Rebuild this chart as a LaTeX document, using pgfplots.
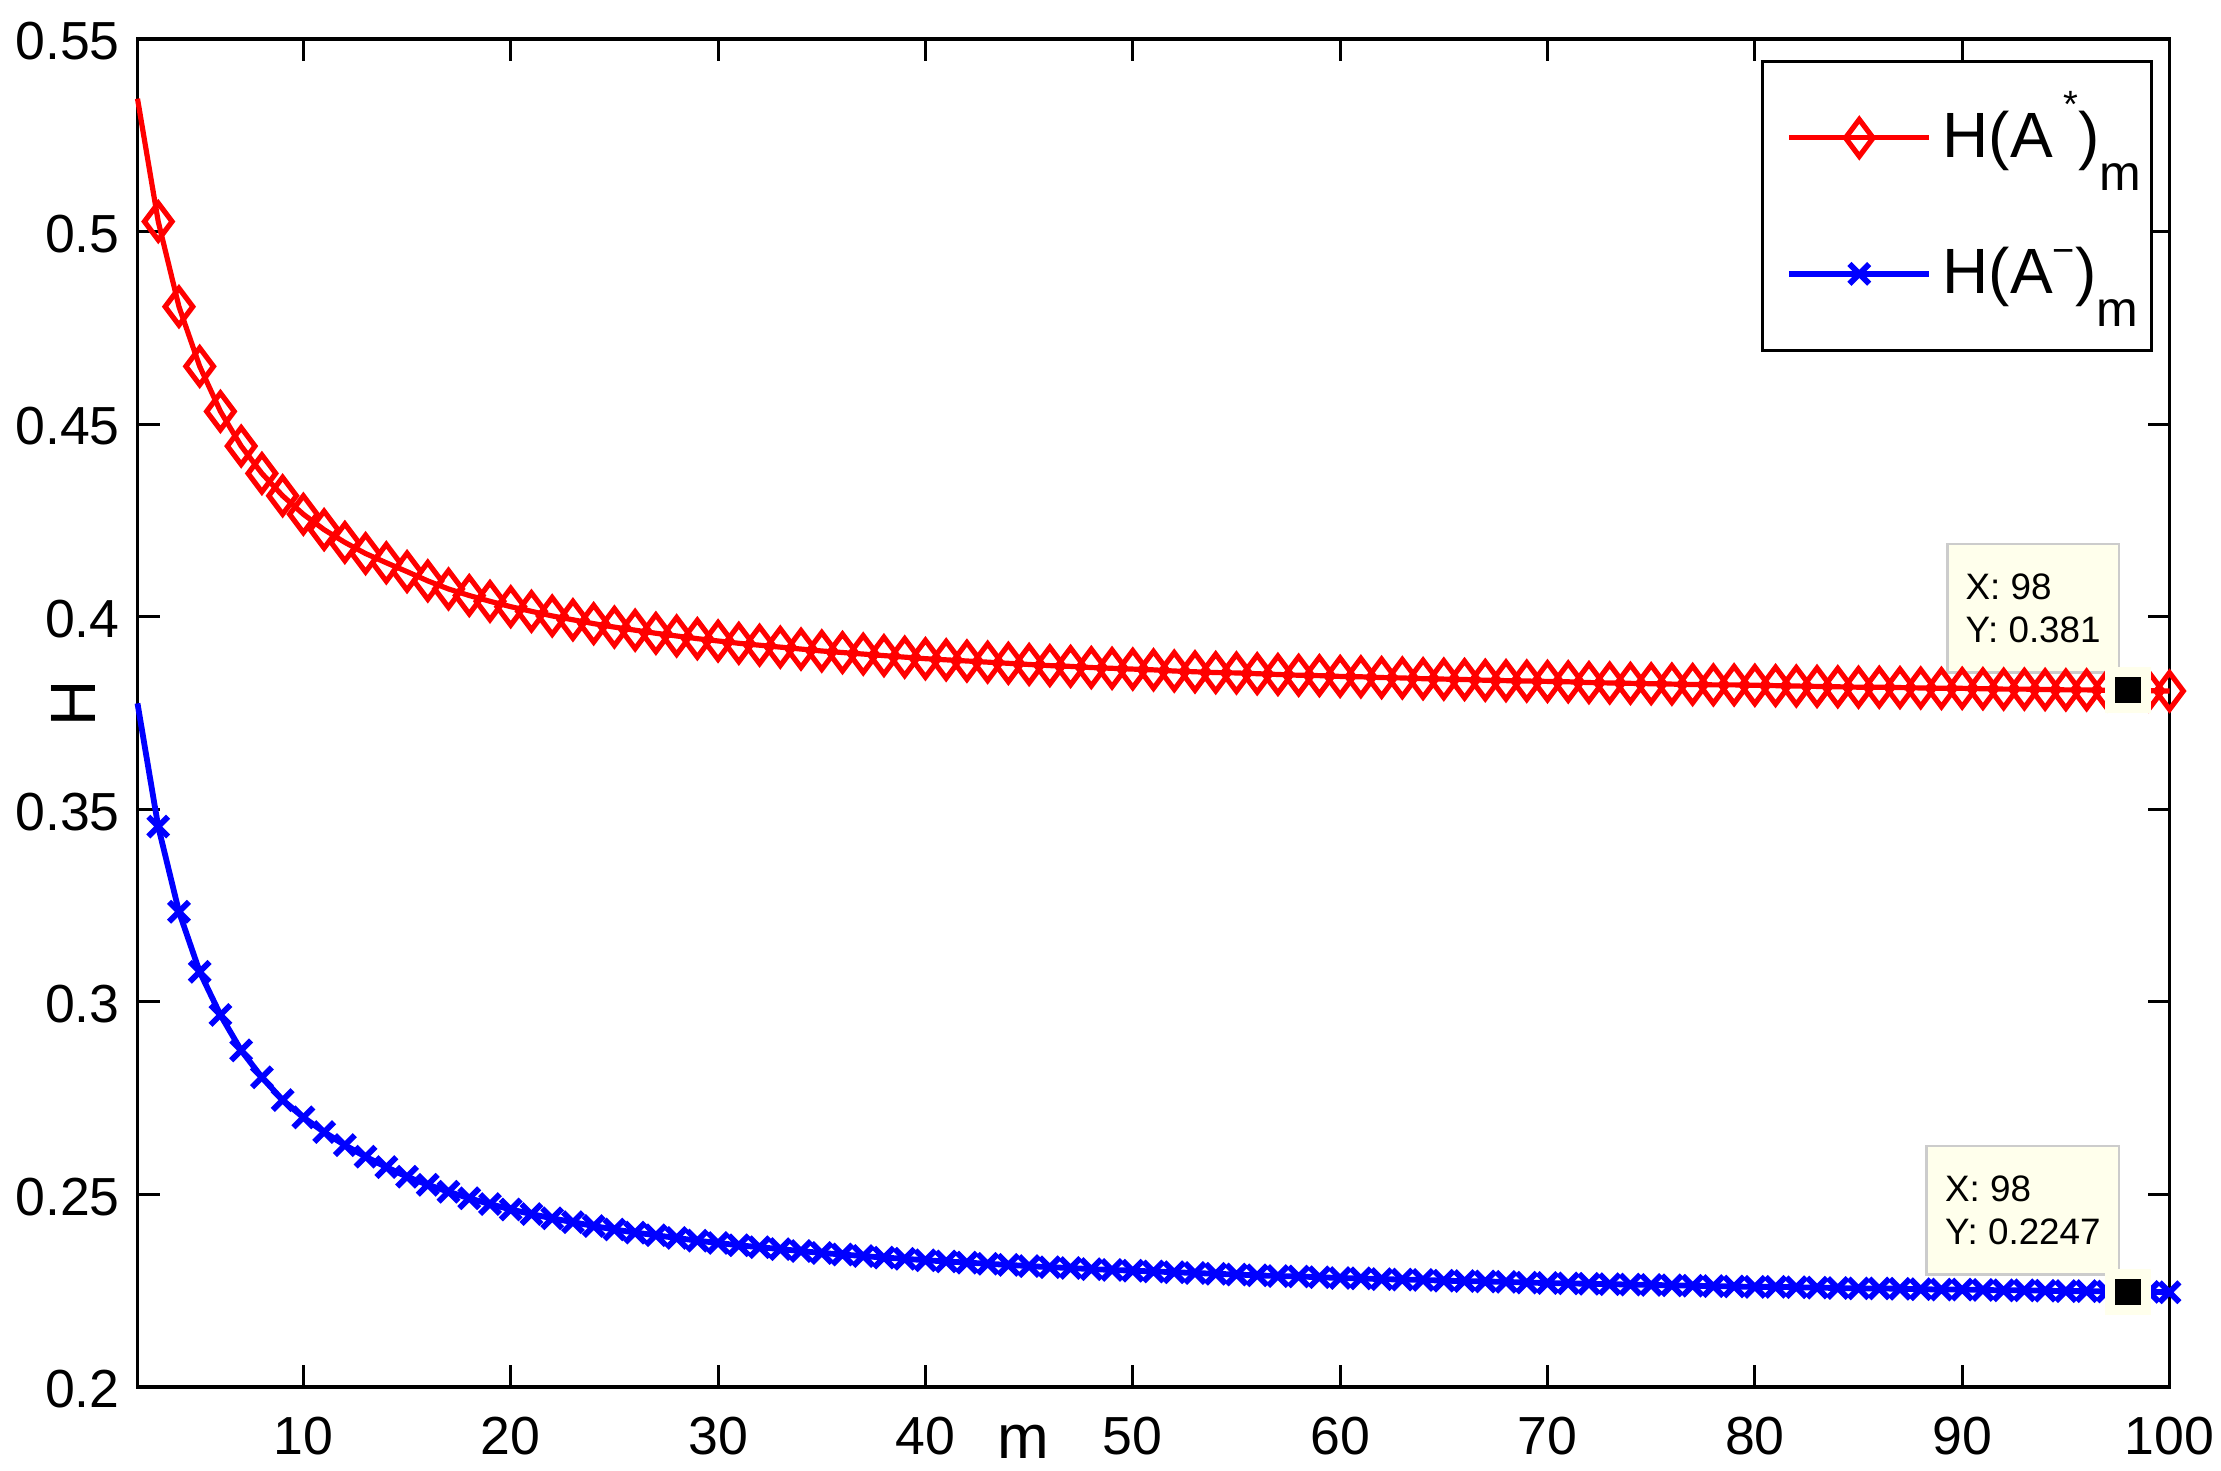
\documentclass[border=0pt]{standalone}
\usepackage{fontspec}
\setmainfont{Liberation Sans}
\usepackage{pgfplots}
\usepackage{pgfplotstable}
\pgfplotsset{compat=1.18}
\definecolor{tipbg}{RGB}{255,255,236}
\definecolor{tipborder}{RGB}{204,204,204}

\pgfplotstableread{
m red blue
2 0.5345 0.3775
3 0.5026 0.3455
4 0.4805 0.3234
5 0.4650 0.3078
6 0.4533 0.2966
7 0.4443 0.2874
8 0.4372 0.2804
9 0.4314 0.2745
10 0.4266 0.2700
11 0.4226 0.2662
12 0.4193 0.2628
13 0.4164 0.2598
14 0.4140 0.2571
15 0.4117 0.2546
16 0.4093 0.2525
17 0.4072 0.2507
18 0.4055 0.2490
19 0.4040 0.2475
20 0.4026 0.2461
21 0.4014 0.2449
22 0.4002 0.2438
23 0.3992 0.2428
24 0.3982 0.2418
25 0.3973 0.2409
26 0.3965 0.2401
27 0.3957 0.2394
28 0.3950 0.2387
29 0.3943 0.2380
30 0.3937 0.2374
31 0.3931 0.2368
32 0.3926 0.2363
33 0.3921 0.2358
34 0.3916 0.2353
35 0.3911 0.2348
36 0.3907 0.2344
37 0.3903 0.2340
38 0.3899 0.2336
39 0.3895 0.2333
40 0.3891 0.2329
41 0.3888 0.2326
42 0.3885 0.2323
43 0.3882 0.2320
44 0.3879 0.2317
45 0.3876 0.2314
46 0.3873 0.2311
47 0.3871 0.2309
48 0.3868 0.2306
49 0.3866 0.2304
50 0.3864 0.2302
51 0.3862 0.2300
52 0.3859 0.2298
53 0.3857 0.2296
54 0.3855 0.2294
55 0.3854 0.2292
56 0.3852 0.2290
57 0.3850 0.2288
58 0.3848 0.2287
59 0.3847 0.2285
60 0.3845 0.2283
61 0.3844 0.2282
62 0.3842 0.2280
63 0.3841 0.2279
64 0.3839 0.2278
65 0.3838 0.2276
66 0.3837 0.2275
67 0.3835 0.2274
68 0.3834 0.2273
69 0.3833 0.2271
70 0.3832 0.2270
71 0.3831 0.2269
72 0.3829 0.2268
73 0.3828 0.2267
74 0.3827 0.2266
75 0.3826 0.2265
76 0.3825 0.2264
77 0.3824 0.2263
78 0.3823 0.2262
79 0.3823 0.2261
80 0.3822 0.2260
81 0.3821 0.2260
82 0.3820 0.2259
83 0.3819 0.2258
84 0.3818 0.2257
85 0.3817 0.2256
86 0.3817 0.2256
87 0.3816 0.2255
88 0.3815 0.2254
89 0.3814 0.2253
90 0.3814 0.2253
91 0.3813 0.2252
92 0.3812 0.2251
93 0.3812 0.2251
94 0.3811 0.2250
95 0.3810 0.2249
96 0.3810 0.2249
97 0.3809 0.2248
98 0.3810 0.2247
99 0.3808 0.2247
100 0.3807 0.2246
}\datatable

\begin{document}
\begin{tikzpicture}
\begin{axis}[
  scale only axis,
  width=508pt, height=337pt,
  xmin=2, xmax=100, ymin=0.2, ymax=0.55,
  xtick={10,20,30,40,50,60,70,80,90,100},
  ytick={0.2,0.25,0.3,0.35,0.4,0.45,0.5,0.55},
  yticklabels={0.2,0.25,0.3,0.35,0.4,0.45,0.5,0.55},
  minor tick num=0,
  tick align=inside,
  xtick pos=both, ytick pos=both,
  major tick length=5.5pt,
  every tick/.style={black, line width=0.75pt},
  axis line style={black, line width=0.8pt},
  /pgf/number format/assume math mode=true,
  tick label style={font=\fontsize{13.4}{16}\selectfont},
  xticklabel style={anchor=base, yshift=-16.75pt, inner sep=0pt},
  yticklabel style={anchor=east, xshift=-4.25pt, yshift=-0.6pt, inner sep=0pt},
  xlabel={m},
  xlabel style={at={(rel axis cs:0.4357,0)}, anchor=base, yshift=-17.75pt, inner sep=0pt, font=\fontsize{15.5}{18}\selectfont},
  ylabel={H},
  ylabel style={at={(rel axis cs:0,0.507)}, anchor=center, yshift=16.1pt, inner sep=0pt, font=\fontsize{16}{18}\selectfont},
  clip=false,
  legend image code/.code={%
    \path (0pt,0pt);
    \draw[#1, mark indices={2}] plot coordinates {(6pt,0pt) (23.5pt,0pt) (41pt,0pt)};
  },
  legend style={
    at={(rel axis cs:1,1)}, anchor=north east, xshift=-4.1pt, yshift=-5.25pt,
    draw=black, line width=0.75pt, fill=white,
    inner xsep=0pt, inner ysep=6pt, row sep=7.8pt, column sep=0pt,
    font=\fontsize{16}{19}\selectfont,
    cells={anchor=west},
    nodes={inner xsep=2.6pt, inner ysep=2pt, text height=16pt, text depth=6.2pt},
  },
]
\addplot[red, line width=1.3pt, mark=diamond, mark size=4.6pt, mark indices={2,...,99}, mark options={solid}]
  table[x=m, y=red]{\datatable};
\addlegendentry{H(A\,\raisebox{10.1pt}{\fontsize{9.5}{9.5}\selectfont *})\raisebox{-8.25pt}{\fontsize{12.5}{12.5}\selectfont m}}
\addplot[blue, line width=1.45pt, mark=x, mark size=3.5pt, mark indices={2,...,99}, mark options={solid}]
  table[x=m, y=blue]{\datatable};
\addlegendentry{H(A\raisebox{7.6pt}{\fontsize{9.5}{9.5}\selectfont −})\raisebox{-8.25pt}{\fontsize{12.5}{12.5}\selectfont m}}

% data tips
\addplot[forget plot, only marks, mark=square*, mark size=5.6pt, color=tipbg] coordinates {(98,0.381)};
\addplot[forget plot, only marks, mark=square*, mark size=3.1pt, color=black] coordinates {(98,0.381)};
\addplot[forget plot, only marks, mark=square*, mark size=5.6pt, color=tipbg] coordinates {(98,0.2247)};
\addplot[forget plot, only marks, mark=square*, mark size=3.1pt, color=black] coordinates {(98,0.2247)};
\node[draw=tipborder, line width=0.7pt, fill=tipbg, anchor=south east, xshift=-1.9pt, yshift=4.05pt,
      align=left, font=\fontsize{9.2}{10.75}\selectfont, inner xsep=4.6pt, inner ysep=7.4pt]
  at (axis cs:98,0.381) {X: 98\\Y: 0.381};
\node[draw=tipborder, line width=0.7pt, fill=tipbg, anchor=south east, xshift=-1.9pt, yshift=4.05pt,
      align=left, font=\fontsize{9.2}{10.75}\selectfont, inner xsep=4.6pt, inner ysep=7.4pt]
  at (axis cs:98,0.2247) {X: 98\\Y: 0.2247};

\coordinate (ll) at (rel axis cs:0,0);
\coordinate (ur) at (rel axis cs:1,1);
\end{axis}
\pgfresetboundingbox
\path ([shift={(-34.375pt,-20.75pt)}]ll) rectangle ([shift={(12.875pt,9.75pt)}]ur);
\end{tikzpicture}
\end{document}
